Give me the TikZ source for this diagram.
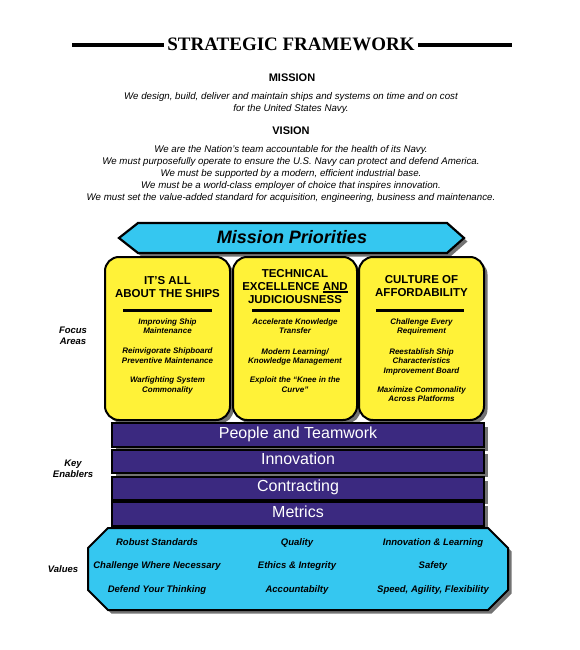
\documentclass[tikz,border=0pt]{standalone}
\usepackage{fontspec}
\setmainfont{Liberation Sans}
\newfontfamily\titlefont{Liberation Serif}
\usetikzlibrary{shadows}
\definecolor{cyanfill}{RGB}{53,199,240}
\definecolor{yellowfill}{RGB}{255,242,56}
\definecolor{purplefill}{RGB}{59,41,128}
\newcommand{\stk}[1]{\begin{tabular}[t]{@{}c@{}}#1\end{tabular}}
\newcommand{\thickul}[1]{\leavevmode\vtop{\hbox{#1}\kern0.8pt\hrule height1.3pt}}
\begin{document}
\begin{tikzpicture}[x=1pt,y=-1pt,
  dshadow/.style={drop shadow={shadow xshift=3.5pt,shadow yshift=-3.5pt,fill=black,opacity=0.55}},
  heading/.style={font=\bfseries\fontsize{11.5}{13}\selectfont,anchor=base,inner sep=0pt},
  itemtext/.style={font=\bfseries\itshape\fontsize{8}{9.7}\selectfont,anchor=base,inner sep=0pt},
  bodytext/.style={font=\itshape\fontsize{9.7}{12}\selectfont,anchor=base,inner sep=0pt},
  headtext/.style={font=\bfseries\fontsize{11}{13}\selectfont,anchor=base,inner sep=0pt},
  sidetext/.style={font=\bfseries\itshape\fontsize{9.5}{11}\selectfont,anchor=base,inner sep=0pt},
  valtext/.style={font=\bfseries\itshape\fontsize{9.5}{11}\selectfont,anchor=base,inner sep=0pt},
  focusbox/.style={draw=black,line width=2pt,fill=yellowfill,rounded corners=14pt,minimum height=163pt,inner sep=0pt,dshadow},
  enabler/.style={draw=black,line width=2pt,fill=purplefill,minimum width=372pt,inner sep=0pt,text=white,font=\fontsize{16}{18}\selectfont,text height=11.5pt,text depth=5.5pt},
  rulebar/.style={line width=3pt}
]
\useasboundingbox (0,0) rectangle (580,650);
\fill[white] (0,0) rectangle (580,650);

% Title
\node[font=\titlefont\bfseries\fontsize{19}{22}\selectfont] (title) at (291,44) {STRATEGIC FRAMEWORK};
\coordinate (tl) at (72,45);
\coordinate (tr) at (512,45);
\draw[line width=4pt] (tl) -- (tl -| title.west);
\draw[line width=4pt] (title.east |- tr) -- (tr);

% Mission / Vision
\node[headtext] (mission) at (292,82) {MISSION};
\node[bodytext] (m1) at (291,100) {We design, build, deliver and maintain ships and systems on time and on cost};
\node[bodytext] (m2) at (291,112) {for the United States Navy.};
\node[headtext] (vision) at (291,135) {VISION};
\node[bodytext] (v1) at (291,152) {We are the Nation’s team accountable for the health of its Navy.};
\node[bodytext] (v2) at (291,164) {We must purposefully operate to ensure the U.S. Navy can protect and defend America.};
\node[bodytext] (v3) at (291,176) {We must be supported by a modern, efficient industrial base.};
\node[bodytext] (v4) at (291,188) {We must be a world-class employer of choice that inspires innovation.};
\node[bodytext] (v5) at (291,200) {We must set the value-added standard for acquisition, engineering, business and maintenance.};

% Mission priorities banner
\draw[line width=2.2pt,fill=cyanfill,line join=miter,dshadow]
  (119,238) -- (138,223) -- (447,223) -- (464,238) -- (447,253) -- (138,253) -- cycle;
\node[font=\bfseries\itshape\fontsize{18}{20}\selectfont,anchor=base,inner sep=0pt] (mp) at (292,243.5) {Mission Priorities};

% Focus boxes
\node[focusbox,minimum width=125pt] (box1) at (167.5,338.5) {};
\node[focusbox,minimum width=124pt] (box2) at (295,338.5) {};
\node[focusbox,minimum width=125pt] (box3) at (421.5,338.5) {};

\node[heading] (h1) at (167.5,284) {\stk{IT’S ALL\\ABOUT THE SHIPS}};
\node[heading] (h2) at (295,277.5) {\stk{TECHNICAL\\EXCELLENCE \thickul{AND}\\JUDICIOUSNESS}};
\node[heading] (h3) at (421.5,283.5) {\stk{CULTURE OF\\AFFORDABILITY}};

\coordinate (r1a) at (123,310); \coordinate (r1b) at (212,310);
\coordinate (r2a) at (252,310); \coordinate (r2b) at (340,310);
\coordinate (r3a) at (376,310); \coordinate (r3b) at (464,310);
\draw[rulebar] (r1a) -- (r1b);
\draw[rulebar] (r2a) -- (r2b);
\draw[rulebar] (r3a) -- (r3b);

\node[itemtext] (i11) at (167.5,324) {\stk{Improving Ship\\Maintenance}};
\node[itemtext] (i12) at (167.5,353.5) {\stk{Reinvigorate Shipboard\\Preventive Maintenance}};
\node[itemtext] (i13) at (167.5,382.5) {\stk{Warfighting System\\Commonality}};
\node[itemtext] (i21) at (295,324) {\stk{Accelerate Knowledge\\Transfer}};
\node[itemtext] (i22) at (295,354) {\stk{Modern Learning/\\Knowledge Management}};
\node[itemtext] (i23) at (295,382.5) {\stk{Exploit the “Knee in the\\Curve”}};
\node[itemtext] (i31) at (421.5,324) {\stk{Challenge Every\\Requirement}};
\node[itemtext] (i32) at (421.5,354) {\stk{Reestablish Ship\\Characteristics\\Improvement Board}};
\node[itemtext] (i33) at (421.5,392) {\stk{Maximize Commonality\\Across Platforms}};

% Key enablers
\node[enabler,minimum height=24pt,dshadow] (e1) at (298,435) {People and Teamwork};
\node[enabler,minimum height=23pt,dshadow] (e2) at (298,461.5) {Innovation};
\node[enabler,minimum height=23pt,dshadow] (e3) at (298,488.5) {Contracting};
\node[enabler,minimum height=24pt,dshadow] (e4) at (298,514) {Metrics};

% Values octagon
\draw[line width=2pt,fill=cyanfill,line join=miter,dshadow]
  (108,528) -- (488,528) -- (508,548) -- (508,590) -- (488,610) -- (108,610) -- (88,590) -- (88,548) -- cycle;
\node[valtext] (va1) at (157,545) {Robust Standards};
\node[valtext] (va2) at (297,545) {Quality};
\node[valtext] (va3) at (433,545) {Innovation \& Learning};
\node[valtext] (vb1) at (157,568.5) {Challenge Where Necessary};
\node[valtext] (vb2) at (297,568.5) {Ethics \& Integrity};
\node[valtext] (vb3) at (433,568.5) {Safety};
\node[valtext] (vc1) at (157,592) {Defend Your Thinking};
\node[valtext] (vc2) at (297,592) {Accountabilty};
\node[valtext] (vc3) at (433,592) {Speed, Agility, Flexibility};

% Side labels
\node[sidetext] (focus) at (73,333.5) {\stk{Focus\\Areas}};
\node[sidetext] (keyen) at (73,466) {\stk{Key\\Enablers}};
\node[sidetext] (values) at (63,572.5) {Values};
\end{tikzpicture}
\end{document}
